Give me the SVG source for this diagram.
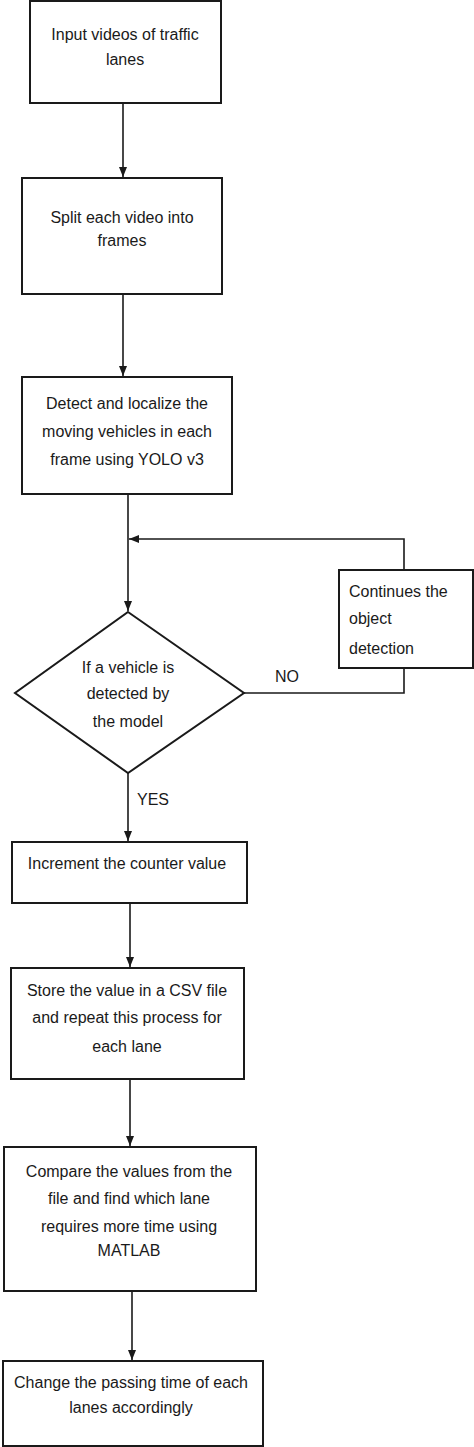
<svg xmlns="http://www.w3.org/2000/svg" width="474" height="1447" viewBox="0 0 474 1447">
<style>
.box{fill:#fff;stroke:#1a1a1a;stroke-width:2}
.t{font-family:"Liberation Sans",Arial,sans-serif;font-size:16px;fill:#1a1a1a;text-anchor:middle}
.l{text-anchor:start}
.c{fill:none;stroke:#1a1a1a;stroke-width:1.6}
</style>
<defs>
<marker id="ah" markerUnits="userSpaceOnUse" markerWidth="10" markerHeight="10" viewBox="0 0 10 10" refX="10" refY="5" orient="auto">
<path d="M0,1 L10,5 L0,9 Z" fill="#1a1a1a"/>
</marker>
</defs>
<rect width="474" height="1447" fill="#fff"/>
<g id="connectors">
<line class="c" x1="123" y1="103" x2="123" y2="177" marker-end="url(#ah)"/>
<line class="c" x1="123" y1="294" x2="123" y2="376" marker-end="url(#ah)"/>
<line class="c" x1="128" y1="494" x2="128" y2="611" marker-end="url(#ah)"/>
<polyline class="c" points="404,570 404,539 129,539" marker-end="url(#ah)"/>
<polyline class="c" points="244,693 404,693 404,668"/>
<line class="c" x1="128" y1="773" x2="128" y2="841" marker-end="url(#ah)"/>
<line class="c" x1="130" y1="903" x2="130" y2="967" marker-end="url(#ah)"/>
<line class="c" x1="130" y1="1079" x2="130" y2="1146" marker-end="url(#ah)"/>
<line class="c" x1="132" y1="1291" x2="132" y2="1360" marker-end="url(#ah)"/>
<text class="t" x="287" y="682">NO</text>
<text class="t l" x="137" y="805">YES</text>
</g>
<g id="n1">
<rect class="box" x="30" y="1" width="191" height="102"/>
<text class="t" x="125" y="40">Input videos of traffic</text>
<text class="t" x="125" y="65">lanes</text>
</g>
<g id="n2">
<rect class="box" x="22" y="178" width="200" height="116"/>
<text class="t" x="122" y="223">Split each video into</text>
<text class="t" x="122" y="246">frames</text>
</g>
<g id="n3">
<rect class="box" x="22" y="377" width="210" height="117"/>
<text class="t" x="127" y="409">Detect and localize the</text>
<text class="t" x="127" y="437">moving vehicles in each</text>
<text class="t" x="127" y="465">frame using YOLO v3</text>
</g>
<g id="n4">
<polygon class="box" points="128,612 244,693 128,773 15,693"/>
<text class="t" x="128" y="673">If a vehicle is</text>
<text class="t" x="128" y="699">detected by</text>
<text class="t" x="128" y="727">the model</text>
</g>
<g id="n5">
<rect class="box" x="339" y="570" width="134" height="98"/>
<text class="t l" x="349" y="597">Continues the</text>
<text class="t l" x="349" y="624">object</text>
<text class="t l" x="349" y="654">detection</text>
</g>
<g id="n6">
<rect class="box" x="12" y="842" width="235" height="61"/>
<text class="t" x="127" y="869">Increment the counter value</text>
</g>
<g id="n7">
<rect class="box" x="11" y="968" width="233" height="111"/>
<text class="t" x="127" y="996">Store the value in a CSV file</text>
<text class="t" x="127" y="1023">and repeat this process for</text>
<text class="t" x="127" y="1052">each lane</text>
</g>
<g id="n8">
<rect class="box" x="4" y="1147" width="252" height="144"/>
<text class="t" x="129" y="1177">Compare the values from the</text>
<text class="t" x="129" y="1204">file and find which lane</text>
<text class="t" x="129" y="1232">requires more time using</text>
<text class="t" x="129" y="1256">MATLAB</text>
</g>
<g id="n9">
<rect class="box" x="3" y="1361" width="260" height="85"/>
<text class="t" x="131" y="1388">Change the passing time of each</text>
<text class="t" x="131" y="1413">lanes accordingly</text>
</g>
</svg>
